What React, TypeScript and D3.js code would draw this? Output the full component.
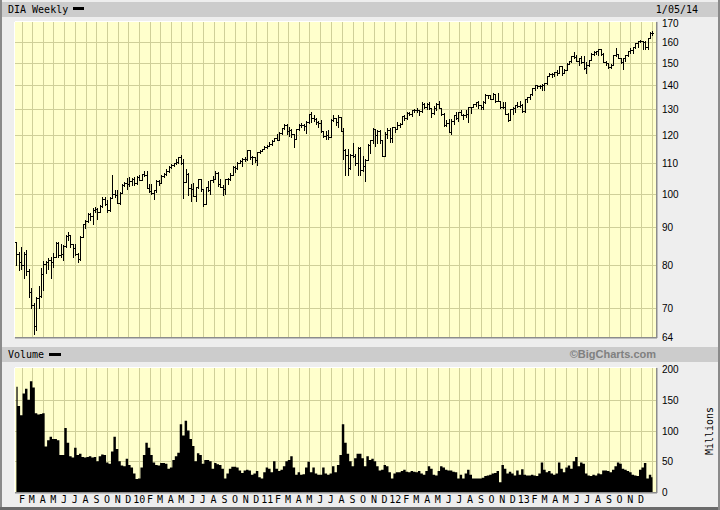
import React from 'react';
import * as d3 from 'd3';

// Weekly bars (week ending Friday), Jan 16 2009 .. Jan 3 2014
const FIRST_WEEK = new Date(2009, 0, 16);
const LAST_WEEK_END = new Date(2014, 0, 4);

const opens = [
  // 2009
  85.9, 82.8, 80.8, 80.0, 82.8, 78.5, 73.7, 70.6, 66.3, 72.2, 72.8, 77.8, 80.2, 80.8, 81.3, 80.8, 82.1, 85.8, 82.7, 82.8,
  85.0, 87.6, 88.0, 85.4, 84.4, 82.8, 81.5, 87.4, 90.9, 91.7, 93.7, 93.2, 95.1, 95.4, 94.4, 96.1, 98.2, 96.7, 94.9, 98.7,
  100.0, 99.7, 97.1, 100.2, 102.7, 103.2, 103.1, 103.9, 104.7, 103.3, 105.2,
  // 2010
  104.3, 106.2, 106.1, 101.7, 100.7, 100.1, 101.0, 104.0, 103.3, 105.7, 106.2, 107.4, 108.5, 109.3, 110.0, 110.2, 112.0,
  110.1, 103.8, 106.2, 101.9, 101.4, 99.3, 102.1, 104.5, 101.4, 96.9, 102.0, 101.0, 104.3, 104.7, 106.5, 103.0, 102.1,
  101.5, 104.5, 104.6, 106.1, 108.6, 108.3, 110.1, 110.6, 111.3, 111.2, 114.4, 111.9, 112.0, 110.9, 113.8, 114.1, 114.9, 115.7,
  // 2011
  115.8, 116.7, 117.9, 118.7, 118.2, 120.9, 122.7, 123.9, 121.3, 121.7, 120.4, 118.6, 122.2, 123.8, 123.8, 123.4, 125.1,
  128.1, 126.4, 126.0, 125.1, 124.4, 121.5, 119.5, 120.0, 119.3, 125.8, 126.6, 124.8, 126.8, 121.4, 114.4, 112.7, 108.2,
  112.8, 112.4, 109.9, 115.1, 107.7, 109.1, 111.0, 116.4, 118.1, 122.3, 119.8, 121.5, 118.0, 112.3, 120.2, 121.8, 118.7, 122.9,
  // 2012
  122.2, 123.6, 124.2, 127.2, 126.6, 128.6, 128.0, 129.5, 129.8, 129.8, 129.2, 132.3, 130.8, 132.1, 130.6, 128.5, 130.3,
  132.3, 130.4, 128.2, 123.7, 124.5, 121.2, 125.5, 127.7, 126.4, 128.8, 127.7, 127.8, 128.2, 130.8, 131.0, 132.1, 132.8,
  131.6, 130.9, 133.1, 135.9, 135.8, 134.4, 136.1, 133.3, 133.4, 131.1, 130.9, 128.2, 125.9, 130.1, 130.3, 131.6, 131.4, 131.9,
  // 2013
  129.4, 134.4, 134.9, 136.5, 139.0, 140.1, 139.9, 139.8, 140.0, 140.9, 144.0, 145.1, 145.1, 145.8, 145.7, 148.7, 145.5,
  147.1, 149.7, 151.2, 153.5, 153.0, 151.2, 152.5, 150.7, 148.0, 149.1, 151.4, 154.6, 155.4, 155.6, 156.6, 154.3, 150.8,
  150.1, 148.1, 149.2, 153.8, 154.5, 152.6, 150.7, 152.4, 154.0, 155.7, 156.2, 157.6, 159.6, 160.7, 160.9, 160.2, 157.6, 162.2,
  // 2014
  164.8,
];

const highs = [
  // 2009
  86.0, 83.4, 84.7, 83.5, 84.0, 79.0, 74.5, 71.2, 72.5, 75.0, 79.3, 81.0, 81.0, 81.8, 82.0, 83.0, 86.0, 85.9, 85.6, 85.3,
  88.0, 88.8, 88.0, 85.5, 85.6, 83.0, 87.5, 91.0, 92.0, 94.0, 94.0, 95.5, 96.0, 95.5, 96.5, 99.0, 99.0, 98.0, 99.0, 105.8,
  101.0, 101.0, 100.5, 103.0, 103.8, 104.8, 105.2, 104.8, 105.2, 105.5, 105.8,
  // 2010
  106.4, 107.3, 107.3, 103.0, 103.0, 101.0, 104.2, 104.3, 105.8, 106.5, 107.9, 109.0, 109.5, 110.0, 111.5, 112.1, 112.6,
  111.5, 108.0, 106.5, 103.0, 103.3, 102.2, 104.7, 104.5, 101.5, 102.0, 104.0, 104.4, 105.6, 107.2, 107.0, 104.5, 102.6,
  104.7, 104.8, 106.5, 108.8, 109.0, 110.4, 111.0, 111.6, 112.0, 114.5, 114.5, 112.5, 112.2, 113.9, 114.6, 115.0, 115.8, 116.2,
  // 2011
  117.4, 118.1, 118.8, 120.2, 121.0, 122.8, 124.0, 124.0, 122.9, 122.3, 120.5, 122.4, 124.2, 124.5, 124.0, 125.2, 128.2,
  128.8, 127.6, 126.5, 125.2, 125.7, 121.5, 121.3, 121.9, 126.0, 127.5, 126.5, 127.5, 126.9, 122.8, 115.0, 115.0, 113.0,
  117.0, 113.0, 115.5, 115.5, 112.5, 111.5, 116.5, 118.3, 122.8, 122.0, 122.0, 122.0, 118.0, 121.1, 122.5, 122.5, 123.0, 123.0,
  // 2012
  124.8, 124.7, 127.3, 127.5, 128.8, 129.0, 129.6, 130.0, 130.6, 129.8, 132.9, 132.5, 132.7, 133.0, 130.6, 131.3, 132.4,
  133.4, 130.4, 128.3, 125.6, 126.0, 126.0, 127.7, 129.0, 128.8, 129.5, 127.9, 129.5, 130.8, 131.0, 132.3, 133.0, 133.3,
  131.6, 133.2, 136.5, 136.0, 136.0, 136.6, 136.0, 136.6, 133.5, 133.0, 132.9, 128.5, 130.2, 130.8, 131.7, 133.0, 133.3, 132.0,
  // 2013
  134.4, 135.0, 136.5, 139.0, 140.2, 140.2, 140.2, 140.6, 141.0, 144.2, 145.4, 145.3, 145.8, 146.9, 148.8, 148.7, 147.4,
  149.9, 151.2, 153.6, 155.4, 154.1, 152.6, 153.2, 153.4, 150.5, 151.4, 154.7, 155.6, 156.0, 156.6, 156.6, 154.7, 151.1,
  150.1, 149.8, 153.8, 157.1, 154.6, 152.6, 152.5, 154.0, 156.0, 157.1, 158.0, 159.7, 160.7, 161.0, 160.8, 160.5, 162.3, 165.3,
  // 2014
  165.9,
];

const lows = [
  // 2009
  80.0, 78.8, 79.1, 77.0, 77.5, 72.5, 70.0, 64.7, 65.5, 70.0, 72.4, 74.0, 78.0, 79.0, 77.0, 79.5, 82.0, 82.0, 82.0, 81.2,
  84.8, 86.5, 84.8, 82.2, 82.5, 80.9, 81.4, 87.3, 89.7, 91.5, 92.0, 91.0, 94.4, 92.5, 94.4, 96.0, 96.5, 94.3, 94.8, 98.5,
  99.0, 97.0, 96.8, 100.2, 102.5, 101.4, 102.3, 102.8, 102.8, 103.0, 104.2,
  // 2010
  104.2, 105.6, 101.7, 100.4, 99.9, 98.4, 100.6, 102.6, 103.2, 105.2, 105.8, 107.0, 108.2, 109.0, 109.8, 110.0, 109.5,
  98.7, 103.8, 99.7, 97.6, 99.2, 97.6, 101.7, 100.7, 96.1, 96.8, 100.8, 100.0, 103.8, 104.7, 102.5, 102.0, 99.4,
  99.9, 103.0, 104.2, 106.0, 107.0, 108.0, 109.9, 108.8, 110.5, 111.0, 111.5, 109.6, 110.4, 109.3, 113.5, 114.0, 114.7, 115.4,
  // 2011
  115.8, 116.2, 117.7, 118.0, 118.0, 120.5, 122.4, 120.2, 119.5, 119.3, 115.5, 118.5, 122.0, 123.0, 121.8, 120.9, 124.7,
  124.8, 125.5, 124.0, 123.1, 121.0, 119.4, 118.6, 118.6, 119.3, 125.4, 123.8, 123.0, 121.3, 111.3, 106.0, 106.0, 108.0,
  112.0, 109.3, 106.0, 106.0, 107.4, 104.0, 111.0, 113.5, 117.0, 116.0, 117.0, 117.0, 112.3, 112.4, 119.0, 117.3, 117.3, 121.0,
  // 2012
  122.2, 123.0, 124.2, 125.6, 126.0, 127.8, 127.4, 128.8, 129.0, 127.5, 129.0, 130.4, 130.0, 130.0, 127.0, 128.0, 129.5,
  130.3, 127.7, 123.5, 123.4, 121.0, 120.5, 124.0, 126.0, 125.4, 127.5, 126.0, 126.8, 124.9, 128.6, 130.8, 131.3, 130.6,
  130.0, 130.0, 132.5, 134.5, 134.0, 134.0, 133.0, 133.3, 130.5, 130.3, 128.0, 125.4, 126.0, 128.0, 129.0, 131.0, 131.0, 128.8,
  // 2013
  129.0, 133.0, 134.0, 136.0, 138.0, 138.7, 139.0, 137.8, 137.8, 140.8, 144.0, 143.8, 144.0, 144.5, 145.5, 144.4, 145.4,
  147.0, 149.5, 150.6, 152.4, 151.0, 149.0, 149.9, 147.5, 145.5, 148.5, 151.3, 154.0, 154.4, 154.0, 154.0, 150.7, 149.4,
  147.6, 147.8, 149.3, 153.5, 152.5, 149.9, 147.2, 151.0, 153.6, 155.0, 154.7, 157.3, 158.0, 160.0, 157.0, 157.0, 157.0, 162.2,
  // 2014
  164.0,
];

const closes = [
  // 2009
  82.8, 80.8, 80.0, 82.8, 78.5, 73.7, 70.6, 66.3, 72.2, 72.8, 77.8, 80.2, 80.8, 81.3, 80.8, 82.1, 85.8, 82.7, 82.8, 85.0,
  87.6, 88.0, 85.4, 84.4, 82.8, 81.5, 87.4, 90.9, 91.7, 93.7, 93.2, 95.1, 95.4, 94.4, 96.1, 98.2, 96.7, 94.9, 98.7, 100.0,
  99.7, 97.1, 100.2, 102.7, 103.2, 103.1, 103.9, 104.7, 103.3, 105.2, 104.3,
  // 2010
  106.2, 106.1, 101.7, 100.7, 100.1, 101.0, 104.0, 103.3, 105.7, 106.2, 107.4, 108.5, 109.3, 110.0, 110.2, 112.0, 110.1,
  103.8, 106.2, 101.9, 101.4, 99.3, 102.1, 104.5, 101.4, 96.9, 102.0, 101.0, 104.3, 104.7, 106.5, 103.0, 102.1, 101.5,
  104.5, 104.6, 106.1, 108.6, 108.3, 110.1, 110.6, 111.3, 111.2, 114.4, 111.9, 112.0, 110.9, 113.8, 114.1, 114.9, 115.7, 115.8,
  // 2011
  116.7, 117.9, 118.7, 118.2, 120.9, 122.7, 123.9, 121.3, 121.7, 120.4, 118.6, 122.2, 123.8, 123.8, 123.4, 125.1, 128.1,
  126.4, 126.0, 125.1, 124.4, 121.5, 119.5, 120.0, 119.3, 125.8, 126.6, 124.8, 126.8, 121.4, 114.4, 112.7, 108.2, 112.8,
  112.4, 109.9, 115.1, 107.7, 109.1, 111.0, 116.4, 118.1, 122.3, 119.8, 121.5, 118.0, 112.3, 120.2, 121.8, 118.7, 122.9, 122.2,
  // 2012
  123.6, 124.2, 127.2, 126.6, 128.6, 128.0, 129.5, 129.8, 129.8, 129.2, 132.3, 130.8, 132.1, 130.6, 128.5, 130.3, 132.3,
  130.4, 128.2, 123.7, 124.5, 121.2, 125.5, 127.7, 126.4, 128.8, 127.7, 127.8, 128.2, 130.8, 131.0, 132.1, 132.8, 131.6,
  130.9, 133.1, 135.9, 135.8, 134.4, 136.1, 133.3, 133.4, 131.1, 130.9, 128.2, 125.9, 130.1, 130.3, 131.6, 131.4, 131.9, 129.4,
  // 2013
  134.4, 134.9, 136.5, 139.0, 140.1, 139.9, 139.8, 140.0, 140.9, 144.0, 145.1, 145.1, 145.8, 145.7, 148.7, 145.5, 147.1,
  149.7, 151.2, 153.5, 153.0, 151.2, 152.5, 150.7, 148.0, 149.1, 151.4, 154.6, 155.4, 155.6, 156.6, 154.3, 150.8, 150.1,
  148.1, 149.2, 153.8, 154.5, 152.6, 150.7, 152.4, 154.0, 155.7, 156.2, 157.6, 159.6, 160.7, 160.9, 160.2, 157.6, 162.2, 164.8,
  // 2014
  164.7,
];

// Weekly volume, millions of shares
const volumes = [
  171, 140, 125, 160, 168, 150, 180, 170, 128, 126, 127, 128, 74, 84, 90, 86, 86, 84, 60, 60,
  104, 80, 58, 56, 72, 60, 62, 57, 56, 57, 58, 56, 57, 50, 58, 61, 60, 48, 46, 66,
  90, 70, 50, 43, 42, 54, 44, 40, 30, 21, 22, 40, 60, 80, 72, 60, 48, 44, 43, 47,
  47, 46, 38, 40, 52, 58, 64, 110, 92, 116, 100, 86, 75, 50, 63, 60, 46, 52, 52, 50,
  38, 47, 45, 44, 38, 22, 30, 38, 41, 41, 40, 35, 31, 35, 36, 35, 28, 30, 34, 24,
  22, 32, 40, 38, 32, 50, 38, 34, 36, 42, 50, 52, 58, 40, 28, 32, 28, 29, 40, 49,
  32, 40, 30, 28, 28, 40, 30, 28, 30, 42, 32, 44, 60, 110, 80, 62, 50, 42, 55, 62,
  62, 55, 42, 58, 52, 54, 50, 42, 35, 36, 44, 42, 32, 22, 30, 32, 32, 34, 36, 33,
  32, 34, 33, 32, 34, 30, 28, 34, 42, 38, 28, 27, 34, 42, 40, 36, 35, 35, 33, 32,
  22, 28, 22, 30, 36, 28, 22, 22, 22, 22, 23, 26, 27, 28, 30, 31, 34, 16, 44, 38,
  30, 33, 30, 27, 35, 28, 37, 28, 27, 27, 28, 27, 26, 30, 48, 36, 32, 34, 30, 28,
  30, 48, 38, 32, 40, 43, 38, 50, 57, 42, 48, 46, 30, 27, 26, 28, 27, 30, 29, 35,
  35, 34, 32, 36, 42, 48, 46, 38, 36, 34, 32, 28, 27, 26, 36, 40, 47, 22, 28, 24,
];

const priceTicks = [64, 70, 80, 90, 100, 110, 120, 130, 140, 150, 160, 170];
const volumeTicks = [0, 50, 100, 150, 200];
const monthLetters = ['J', 'F', 'M', 'A', 'M', 'J', 'J', 'A', 'S', 'O', 'N', 'D'];

const W = 720;
const H = 510;
const L = 15;
const R = 656;
const P_TOP = 22;
const P_BOT = 337;
const V_TOP = 368;
const V_BOT = 492;

const MONO = '"DejaVu Sans Mono", monospace';
const SANS = '"Liberation Sans", Arial, sans-serif';

export default function App() {
  const dates = d3.timeFriday.range(FIRST_WEEK, LAST_WEEK_END);
  const bars = dates.map((d, i) => ({
    date: d,
    o: opens[i],
    h: highs[i],
    l: lows[i],
    c: closes[i],
    v: volumes[i],
  })).filter((b) => b.h !== undefined);

  const x = d3.scaleTime()
    .domain([new Date(2009, 0, 12), new Date(2014, 0, 13)])
    .range([L, R]);
  const yP = d3.scaleLog().domain([64, 170]).range([P_BOT, P_TOP + 1]);
  const yV = d3.scaleLinear().domain([0, 200]).range([V_BOT, V_TOP + 1]);

  const months = d3.timeMonth.range(new Date(2009, 1, 1), new Date(2014, 0, 2));
  const px = (d: Date) => Math.round(x(d)) + 0.5;

  const area = d3.area<any>()
    .x((d) => x(d.date))
    .y0(V_BOT)
    .y1((d) => yV(d.v))
    .curve(d3.curveStep);

  const grid = '#cfcf99';
  const plotBg = '#ffffcc';

  const gridLines = (top: number, bottom: number, hTicks: number[], yScale: (v: number) => number) => (
    <g shapeRendering="crispEdges">
      {months.map((m, i) => (
        <line key={'v' + i} x1={px(m)} x2={px(m)} y1={top} y2={bottom} stroke={grid} strokeWidth={1} />
      ))}
      {hTicks.map((t) => (
        <line key={'h' + t} x1={L} x2={R} y1={Math.round(yScale(t)) + 0.5} y2={Math.round(yScale(t)) + 0.5} stroke={grid} strokeWidth={1} />
      ))}
    </g>
  );

  return (
    <svg width={W} height={H} style={{ position: 'absolute', left: 0, top: 0, display: 'block' }}>
      <rect x={0} y={0} width={W} height={H} fill="#eeeeee" />
      {/* outer frame */}
      <rect x={0} y={0} width={2} height={H} fill="#8a8a8a" />
      <rect x={0} y={H - 3} width={W} height={3} fill="#6a6a6a" />
      <rect x={W - 2} y={0} width={2} height={H} fill="#8a8a8a" />

      {/* title bars */}
      <rect x={2} y={2} width={W - 4} height={15} fill="#cccccc" />
      <rect x={2} y={347} width={W - 4} height={15} fill="#cccccc" />

      <text x={8} y={13} fontFamily={MONO} fontSize={10} fill="#000">DIA Weekly</text>
      <rect x={73} y={7} width={11} height={3} fill="#000" />
      <text x={698} y={13} fontFamily={MONO} fontSize={10} fill="#000" textAnchor="end">1/05/14</text>

      <text x={8} y={358} fontFamily={MONO} fontSize={10} fill="#000">Volume</text>
      <rect x={49} y={353} width={12} height={3} fill="#000" />
      <text x={656} y={358} fontFamily={SANS} fontSize={11} fontWeight="bold" fill="#808080" textAnchor="end">©BigCharts.com</text>

      {/* price panel */}
      <rect x={L} y={P_TOP} width={R - L} height={P_BOT - P_TOP} fill={plotBg} />
      {gridLines(P_TOP, P_BOT, priceTicks.filter((t) => t > 64 && t < 170), yP)}
      <g stroke="#000" strokeWidth={1} shapeRendering="crispEdges">
        {bars.map((b, i) => {
          const bx = px(b.date);
          const yc = Math.round(yP(b.c)) + 0.5;
          const yo = Math.round(yP(b.o)) + 0.5;
          return (
            <g key={i}>
              <line x1={bx} x2={bx} y1={Math.round(yP(b.h))} y2={Math.round(yP(b.l)) + 1} />
              <line x1={bx - 1.5} x2={bx} y1={yo} y2={yo} />
              <line x1={bx} x2={bx + 1.5} y1={yc} y2={yc} />
            </g>
          );
        })}
      </g>
      <line x1={L} x2={R} y1={P_TOP - 0.5} y2={P_TOP - 0.5} stroke="#ffffff" />
      <line x1={L - 0.5} x2={L - 0.5} y1={P_TOP} y2={P_BOT} stroke="#ffffff" />
      <rect x={L} y={P_BOT} width={R - L + 1} height={1.5} fill="#8c8c8c" />
      <rect x={R} y={P_TOP} width={1.5} height={P_BOT - P_TOP + 1} fill="#8c8c8c" />

      {priceTicks.map((t) => (
        <text key={t} x={662} y={yP(t) + 4} fontFamily={SANS} fontSize={10} fill="#000">{t}</text>
      ))}

      {/* volume panel */}
      <rect x={L} y={V_TOP} width={R - L} height={V_BOT - V_TOP} fill={plotBg} />
      {gridLines(V_TOP, V_BOT, [50, 100, 150], yV)}
      <path d={area(bars) || ''} fill="#000" />
      <line x1={L} x2={R} y1={V_TOP - 0.5} y2={V_TOP - 0.5} stroke="#ffffff" />
      <line x1={L - 0.5} x2={L - 0.5} y1={V_TOP} y2={V_BOT} stroke="#ffffff" />
      <rect x={L} y={V_BOT} width={R - L + 1} height={1.5} fill="#8c8c8c" />
      <rect x={R} y={V_TOP} width={1.5} height={V_BOT - V_TOP + 1} fill="#8c8c8c" />

      {volumeTicks.map((t) => (
        <text key={t} x={662} y={yV(t) + 4} fontFamily={SANS} fontSize={10} fill="#000">{t}</text>
      ))}
      <text
        transform={`translate(713, 431) rotate(-90)`}
        fontFamily={MONO}
        fontSize={10}
        fill="#000"
        textAnchor="middle"
      >Millions</text>

      {/* month axis */}
      {months.filter((m) => m < new Date(2013, 11, 15)).map((m, i) => {
        const mo = m.getMonth();
        const label = mo === 0 ? String(m.getFullYear()).slice(2) : monthLetters[mo];
        return (
          <text key={i} x={x(m)} y={503} fontFamily={MONO} fontSize={10} fill="#000" textAnchor="middle">{label}</text>
        );
      })}
    </svg>
  );
}
